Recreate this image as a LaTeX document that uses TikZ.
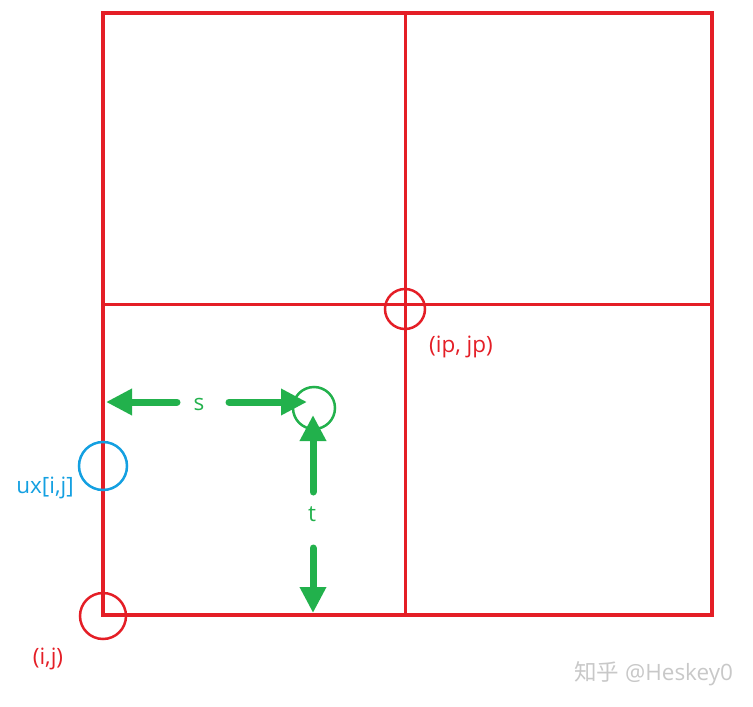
\documentclass[tikz,border=0pt]{standalone}
\usepackage{fontspec}
\setmainfont{Open Sans}
\newfontfamily\cjk{Noto Sans CJK SC}
\usetikzlibrary{arrows.meta}
\definecolor{gred}{RGB}{228,30,38}
\definecolor{ggreen}{RGB}{34,177,76}
\definecolor{gblue}{RGB}{20,160,225}
\definecolor{wm}{RGB}{200,200,200}
\tikzset{
  gridline/.style={draw=gred, line width=3pt},
  outerline/.style={draw=gred, line width=4.5pt},
  ring/.style={circle, draw, line width=2.5pt, minimum size=#1, inner sep=0pt},
  garrow/.style={draw=ggreen, line width=7pt, line cap=round, -{Triangle[width=25pt,length=26pt]}},
  lbl/.style={font=\fontsize{22.5}{26}\selectfont, inner sep=0pt}
}
\begin{document}
\begin{tikzpicture}[x=1pt,y=-1pt]
\useasboundingbox (0,0) rectangle (753,707);
% grid
\coordinate (TL) at (103,13);
\coordinate (BR) at (712,615);
\draw[gridline] (405,13) -- (405,615);
\draw[gridline] (103,304) -- (712,304);
\draw[outerline] (TL) rectangle (BR);
% circles
\node[ring=40pt, draw=gred] (ipjp) at (405,309) {};
\node[ring=46pt, draw=gred] (ij) at (103,616) {};
\node[ring=48pt, draw=gblue] (ux) at (103,466) {};
\node[ring=42pt, draw=ggreen] (p) at (314,408) {};
% labels
\node[lbl, text=gred, anchor=west] (lipjp) at (429,347) {(ip, jp)};
\node[lbl, text=gred] (lij) at (48,659) {(i,j)};
\node[lbl, text=gblue] (lux) at (45,488) {ux[i,j]};
\node[lbl, text=ggreen] (ls) at (199,404) {s};
\node[lbl, text=ggreen] (lt) at (312,514) {t};
% arrows
\coordinate (sL) at (106,402);
\coordinate (sLs) at (177,402);
\coordinate (sRs) at (229,402);
\coordinate (sR) at (307,402);
\coordinate (tU) at (313,415);
\coordinate (tUs) at (313,492);
\coordinate (tBs) at (313,548);
\coordinate (tB) at (313,613);
\draw[garrow] (sLs) -- (sL);
\draw[garrow] (sRs) -- (sR);
\draw[garrow] (tUs) -- (tU);
\draw[garrow] (tBs) -- (tB);
% watermark
\node[font=\fontsize{22.5}{26}\selectfont, text=wm, anchor=west, inner sep=0pt] (wmk) at (574,674) {{\cjk 知乎} @Heskey0};
\end{tikzpicture}
\end{document}
